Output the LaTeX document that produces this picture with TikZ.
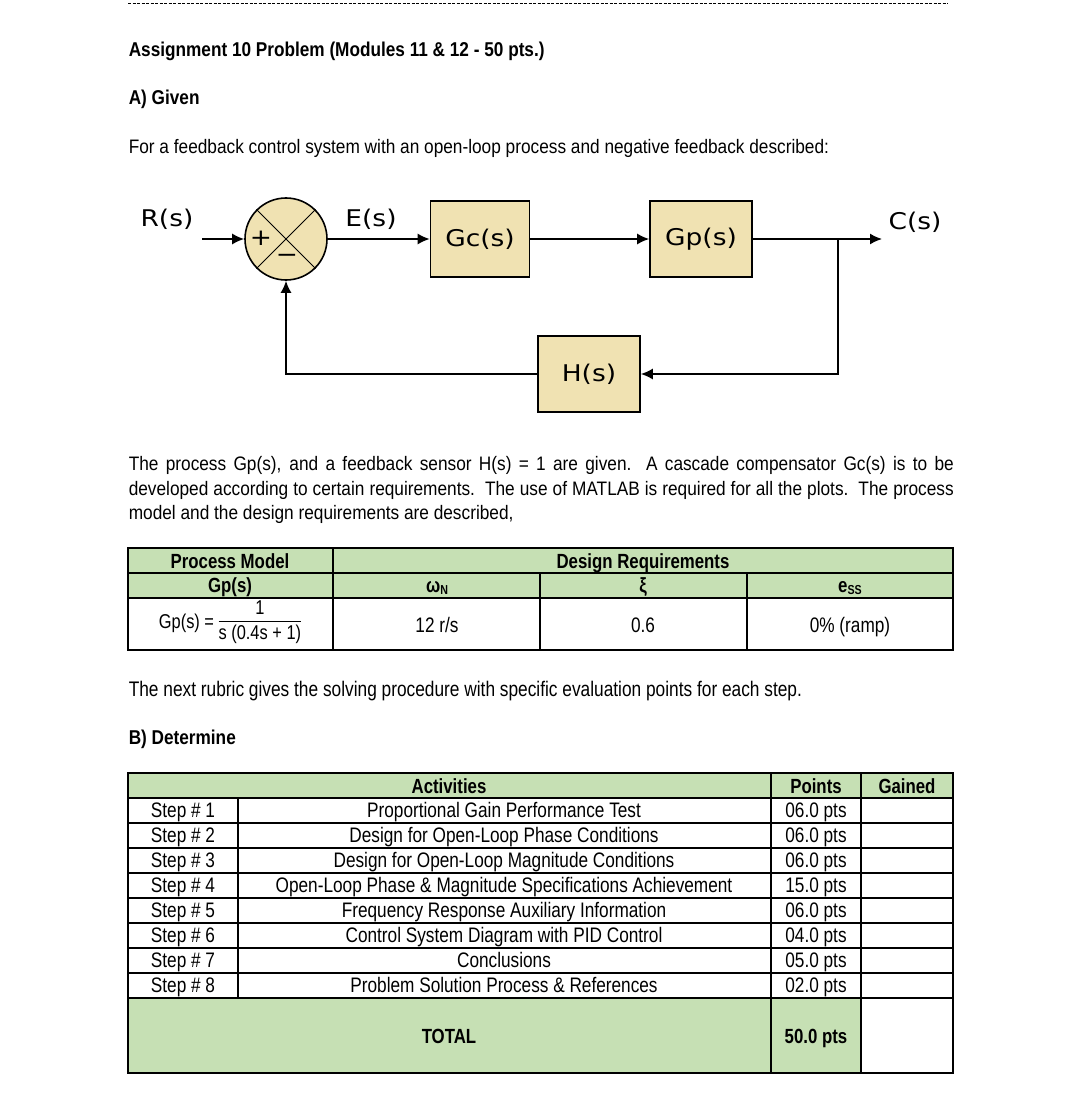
\documentclass[tikz,border=0pt]{standalone}
\usepackage{fontspec}
\usepackage{tikz}
\usetikzlibrary{arrows.meta}
\setmainfont{Liberation Sans}
\newfontfamily\narrowfont[FakeStretch=0.82]{Liberation Sans}
\newfontfamily\titlefont[FakeStretch=0.86]{Liberation Sans}
\newfontfamily\bodyfont[FakeStretch=0.885]{Liberation Sans}
\newfontfamily\blockfont[FakeStretch=1.15]{DejaVu Sans}
\definecolor{beige}{RGB}{240,226,178}
\definecolor{tabgreen}{RGB}{198,224,180}

\begin{document}
\begin{tikzpicture}[x=1pt,y=-1pt,>={Latex[length=12pt,width=11pt]},line width=1.6pt]
\tikzstyle{every node}=[inner sep=0pt]
\tikzstyle{block}=[draw,fill=beige,minimum width=100pt,minimum height=76pt,
                   font=\blockfont\fontsize{23}{23}\selectfont]
\tikzstyle{lbl}=[font=\blockfont\fontsize{23}{23}\selectfont]
\tikzstyle{heading}=[anchor=base west,font=\titlefont\bfseries\fontsize{20}{24}\selectfont]
\tikzstyle{body}=[anchor=base west,font=\bodyfont\fontsize{19.5}{24}\selectfont]
\tikzstyle{tabtext}=[anchor=base,font=\narrowfont\fontsize{21}{25}\selectfont]
\tikzstyle{tabhead}=[tabtext,font=\narrowfont\bfseries\fontsize{20.5}{25}\selectfont]
\useasboundingbox (0,0) rectangle (1080,1110);

\draw[line width=0.8pt,dash pattern=on 3pt off 1.5pt] (128,3) -- (948,3);

% texts
\node[heading] (title) at (128,57) {Assignment 10 Problem (Modules 11 \& 12 - 50 pts.)};
\node[heading] (given) at (128,105) {A) Given};
\node[body] (intro) at (128,154) {For a feedback control system with an open-loop process and negative feedback described:};

% block diagram
\node[draw,circle,fill=beige,minimum size=82pt] (sum) at (286,239) {};
\draw[line width=1pt] (sum.north west) -- (sum.south east)
                      (sum.north east) -- (sum.south west);
\node[lbl] at (261,238) {+};
\node[lbl] at (287,258) {−};
\node[block,minimum width=99pt] (gc) at (480,239) {Gc(s)};
\node[block,minimum width=102pt] (gp) at (701,239) {Gp(s)};
\node[block,minimum width=102pt] (h) at (589,374) {H(s)};
\coordinate (r) at (202,239);
\coordinate (c) at (882,239);
\coordinate (br) at (838,239);
\node[lbl] at (167,219) {R(s)};
\node[lbl] at (371,219) {E(s)};
\node[lbl] at (915,222) {C(s)};

\draw[->] (r) -- (sum.west);
\draw[->] (sum.east) -- (gc.west);
\draw[->] (gc.east) -- (gp.west);
\draw[->] (gp.east) -- (c);
\draw[->] (br) |- (h.east);
\draw[->] (h.west) -| (sum.south);

% paragraph
\node[body] (p1) at (128,470) {\makebox[825pt][s]{The process Gp(s), and a feedback sensor H(s) = 1 are given.\ \ A cascade compensator Gc(s) is to be}};
\node[body] (p2) at (128,495) {\makebox[825pt][s]{developed according to certain requirements.\ \ The use of MATLAB is required for all the plots.\ \ The process}};
\node[body] (p3) at (128,519) {model and the design requirements are described,};

% table of the process model
\fill[tabgreen] (128,548) rectangle (953,598);
\draw[line width=1.3pt] (128,548) rectangle (953,650);
\draw[line width=1.3pt] (128,573) -- (953,573) (128,598) -- (953,598)
      (333,548) -- (333,650) (540,573) -- (540,650) (747,573) -- (747,650);
\node[tabhead] (pm) at (230,568) {Process Model};
\node[tabhead] (dr) at (643,568) {Design Requirements};
\node[tabhead] (gph) at (230,592) {Gp(s)};
\node[tabhead] (wn) at (437,592) {ω\raisebox{-2pt}{\fontsize{13}{13}\selectfont N}};
\node[tabhead] (xi) at (643,592) {ξ};
\node[tabhead] (ess) at (850,592) {e\raisebox{-2pt}{\fontsize{13}{13}\selectfont SS}};
\node[anchor=center,font=\narrowfont\fontsize{20}{22}\selectfont] (gpf) at (230,623)
  {Gp(s) = \begin{tabular}{@{}c@{}}1\\[-1pt]\hline\rule{0pt}{19pt}s (0.4s + 1)\end{tabular}};
\node[tabtext] (wnv) at (437,632) {12 r/s};
\node[tabtext] (xiv) at (643,632) {0.6};
\node[tabtext] (essv) at (850,632) {0\% (ramp)};

\node[body,font=\narrowfont\fontsize{21.1}{24}\selectfont] (rubric) at (128,696) {The next rubric gives the solving procedure with specific evaluation points for each step.};
\node[heading] (det) at (128,744) {B) Determine};

% rubric table
\fill[tabgreen] (128,773) rectangle (953,798);
\fill[tabgreen] (128,998) rectangle (861,1073);
\foreach \yy in {773,798,...,998}
  \draw[line width=1.2pt] (128,\yy) -- (953,\yy);
\draw[line width=1.3pt] (128,773) rectangle (953,1073);
\draw[line width=1.2pt] (771,773) -- (771,1073) (861,773) -- (861,1073) (238,798) -- (238,998);
\node[tabhead] (act) at (449,793) {Activities};
\node[tabhead] (pts) at (816,793) {Points};
\node[tabhead] (gain) at (907,793) {Gained};
\foreach \act/\pts [count=\i] in {Proportional Gain Performance Test/06.0 pts,
    Design for Open-Loop Phase Conditions/06.0 pts,
    Design for Open-Loop Magnitude Conditions/06.0 pts,
    Open-Loop Phase \& Magnitude Specifications Achievement/15.0 pts,
    Frequency Response Auxiliary Information/06.0 pts,
    Control System Diagram with PID Control/04.0 pts,
    Conclusions/05.0 pts,
    Problem Solution Process \& References/02.0 pts}
{
  \node[tabtext] (s\i) at (183,792.5+25*\i) {Step \# \i};
  \node[tabtext] (a\i) at (504,792.5+25*\i) {\act};
  \node[tabtext] (p\i) at (816,792.5+25*\i) {\pts};
}
\node[tabhead] (tot) at (449,1043) {TOTAL};
\node[tabhead] (totp) at (816,1043) {50.0 pts};
\end{tikzpicture}
\end{document}
